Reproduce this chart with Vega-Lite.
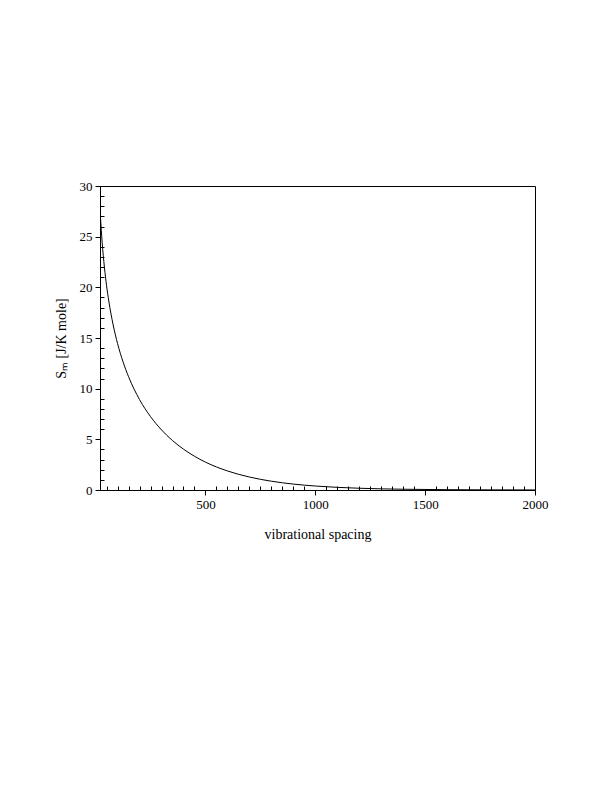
{
  "$schema": "https://vega.github.io/schema/vega-lite/v6.json",
  "width": 435,
  "height": 304,
  "autosize": {"type": "none"},
  "padding": {"left": 100, "top": 186, "right": 77, "bottom": 302},
  "background": "white",
  "config": {
    "view": {"stroke": "black", "strokeWidth": 1},
    "font": "Liberation Serif",
    "axis": {"labelFont": "Liberation Serif", "titleFont": "Liberation Serif", "labelColor": "black", "titleColor": "black", "domainColor": "black", "tickColor": "black", "grid": false, "titleFontWeight": "normal", "labelFontSize": 13, "titleFontSize": 14}
  },
  "data": {"values": [
    {"v": 22, "s": 26.96}, {"v": 30, "s": 24.39}, {"v": 40, "s": 22.0}, {"v": 50, "s": 20.15},
    {"v": 60, "s": 18.65}, {"v": 80, "s": 16.28}, {"v": 100, "s": 14.45}, {"v": 125, "s": 12.64},
    {"v": 150, "s": 11.18}, {"v": 200, "s": 8.92}, {"v": 250, "s": 7.24}, {"v": 300, "s": 5.93},
    {"v": 350, "s": 4.88}, {"v": 400, "s": 4.03}, {"v": 450, "s": 3.33}, {"v": 500, "s": 2.75},
    {"v": 600, "s": 1.88}, {"v": 700, "s": 1.28}, {"v": 800, "s": 0.867}, {"v": 900, "s": 0.584},
    {"v": 1000, "s": 0.392}, {"v": 1100, "s": 0.261}, {"v": 1200, "s": 0.173}, {"v": 1400, "s": 0.075},
    {"v": 1600, "s": 0.032}, {"v": 1800, "s": 0.0136}, {"v": 2000, "s": 0.0057}
  ]},
  "resolve": {"axis": {"x": "independent", "y": "independent"}},
  "layer": [
    {
      "mark": {"type": "line", "color": "black", "strokeWidth": 1, "interpolate": "monotone"},
      "encoding": {
        "x": {"field": "v", "type": "quantitative", "scale": {"domain": [20, 2000], "nice": false, "zero": false},
          "axis": {"orient": "bottom", "title": "vibrational spacing", "values": [500, 1000, 1500, 2000], "tickSize": 5, "labelPadding": 3, "titlePadding": 16, "format": "d", "labelFlush": false}},
        "y": {"field": "s", "type": "quantitative", "scale": {"domain": [0, 30], "nice": false},
          "axis": {"orient": "left", "title": "Sₘ [J/K mole]", "values": [0, 5, 10, 15, 20, 25, 30], "tickSize": 5, "labelPadding": 3, "titlePadding": 11, "labelFlush": false}}
      }
    },
    {
      "mark": {"type": "point", "opacity": 0},
      "encoding": {
        "x": {"field": "v", "type": "quantitative",
          "axis": {"orient": "bottom", "title": null, "labels": false, "domain": false, "tickSize": -4,
            "values": [50,100,150,200,250,300,350,400,450,550,600,650,700,750,800,850,900,950,1050,1100,1150,1200,1250,1300,1350,1400,1450,1550,1600,1650,1700,1750,1800,1850,1900,1950]}},
        "y": {"field": "s", "type": "quantitative",
          "axis": {"orient": "left", "title": null, "labels": false, "domain": false, "tickSize": -4,
            "values": [1,2,3,4,6,7,8,9,11,12,13,14,16,17,18,19,21,22,23,24,26,27,28,29]}}
      }
    }
  ]
}
